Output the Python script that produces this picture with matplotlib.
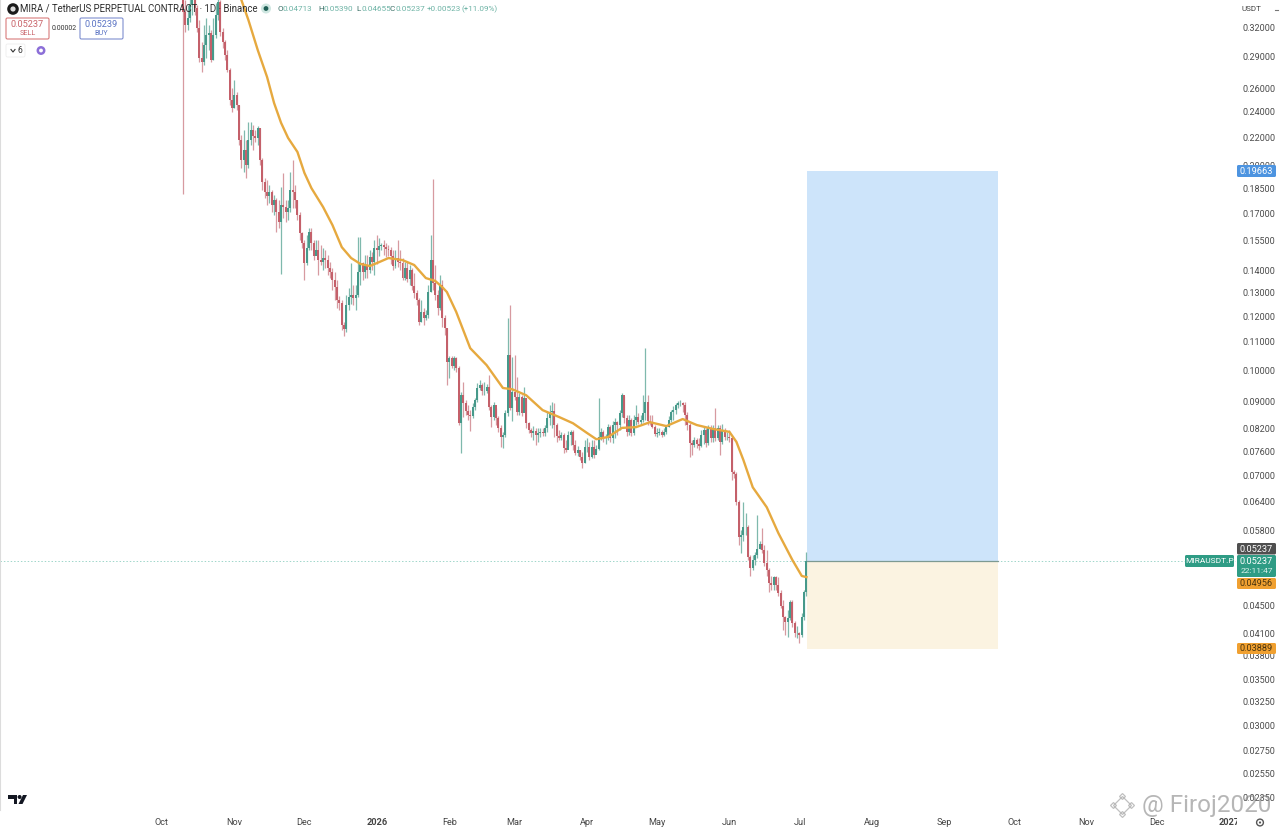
import numpy as np
import pandas as pd
import matplotlib
matplotlib.use("Agg")
import matplotlib.pyplot as plt
import matplotlib.dates as mdates
from matplotlib.patches import Circle, FancyBboxPatch, Polygon, Rectangle
from matplotlib.ticker import FixedLocator, FixedFormatter, NullLocator

plt.rcParams['font.family'] = ['Roboto', 'DejaVu Sans']

# ---------- data ----------
start_date = "2025-10-10"
closes = [.3367,.3222,.3299,.3448,.3567,.3413,.3189,.2880,.2842,.3011,.3114,.3135,.2861,.3114,.3333,.3483,.3146,.3041,.2910,.2766,
.2498,.2432,.2541,.2456,.2182,.2039,.2109,.2005,.2182,.2257,.2212,.2197,.2272,.2039,.1892,.1829,.1804,.1829,.1750,.1780,
.1709,.1652,.1750,.1738,.1709,.1732,.1841,.1829,.1780,.1692,.1592,.1538,.1437,.1512,.1597,.1538,.1472,.1502,.1452,.1442,
.1462,.1452,.1414,.1395,.1357,.1325,.1268,.1255,.1165,.1149,.1247,.1281,.1290,.1277,.1290,.1395,.1437,.1395,.1428,.1404,
.1467,.1442,.1512,.1502,.1522,.1527,.1517,.1507,.1502,.1472,.1423,.1462,.1442,.1437,.1366,.1414,.1362,.1404,.1330,.1299,
.1268,.1177,.1218,.1193,.1205,.1303,.1452,.1343,.1290,.1234,.1334,.1193,.1153,.1028,.1042,.1014,.1042,.1007,.0835,.0918,
.0894,.0870,.0858,.0855,.0882,.0903,.0941,.0950,.0931,.0931,.0944,.0882,.0853,.0888,.0850,.0822,.0797,.0802,.0864,.1052,
.0879,.0928,.0912,.0867,.0912,.0864,.0909,.0835,.0816,.0808,.0813,.0802,.0808,.0811,.0808,.0822,.0850,.0867,.0870,.0830,
.0800,.0794,.0802,.0767,.0762,.0802,.0811,.0775,.0755,.0762,.0744,.0730,.0770,.0770,.0744,.0770,.0749,.0765,.0797,.0811,
.0794,.0794,.0824,.0794,.0830,.0838,.0830,.0864,.0918,.0850,.0811,.0844,.0808,.0844,.0853,.0838,.0844,.0864,.0897,.0841,
.0838,.0824,.0805,.0808,.0811,.0802,.0811,.0824,.0844,.0867,.0873,.0888,.0894,.0894,.0888,.0858,.0830,.0781,.0775,.0789,
.0778,.0773,.0802,.0816,.0781,.0822,.0794,.0822,.0794,.0822,.0784,.0816,.0797,.0797,.0794,.0707,.0702,.0639,.0567,.0571,
.0587,.0587,.0530,.0511,.0525,.0534,.0546,.0555,.0543,.0520,.0507,.0485,.0482,.0495,.0482,.04695,.0450,.0433,.0425,.0431,
.0455,.0424,.0410,.0410,.0407,.0433,.04713,.05237]
highs = [.3688,.3507,.3448,.3567,.3688,.3627,.3448,.3277,.3041,.3222,.3299,.3222,.3168,.3299,.3471,.3567,.3507,.3189,.3062,.2960,
.2785,.2603,.2674,.2568,.2456,.2219,.2257,.2182,.2319,.2319,.2296,.2257,.2288,.2272,.2053,.1918,.1905,.1873,.1841,.1810,
.1792,.1780,.1860,.1951,.1780,.1780,.1958,.2039,.1873,.1780,.1709,.1597,.1554,.1581,.1619,.1619,.1554,.1554,.1554,.1527,
.1512,.1502,.1477,.1442,.1414,.1395,.1357,.1286,.1268,.1177,.1290,.1321,.1437,.1334,.1334,.1570,.1570,.1442,.1477,.1477,
.1502,.1492,.1554,.1581,.1565,.1538,.1554,.1538,.1527,.1517,.1502,.1502,.1554,.1502,.1462,.1442,.1442,.1428,.1414,.1390,
.1312,.1277,.1268,.1234,.1226,.1334,.1581,.1911,.1428,.1312,.1380,.1357,.1205,.1153,.1049,.1049,.1049,.1045,.1014,.0928,
.0960,.0903,.0888,.0873,.0894,.0909,.0957,.0967,.0957,.0960,.0954,.0983,.0888,.0897,.0879,.0855,.0830,.0811,.0873,.1193,
.1247,.1045,.1052,.0977,.0925,.0918,.0944,.0909,.0838,.0822,.0827,.0822,.0822,.0822,.0822,.0830,.0867,.0888,.0897,.0894,
.0835,.0816,.0811,.0808,.0789,.0813,.0816,.0816,.0789,.0773,.0762,.0757,.0789,.0794,.0784,.0789,.0789,.0775,.0909,.0822,
.0816,.0805,.0833,.0830,.0841,.0850,.0841,.0873,.0925,.0915,.0858,.0858,.0850,.0858,.0888,.0864,.0858,.0918,.1077,.0918,
.0858,.0858,.0830,.0822,.0822,.0816,.0822,.0830,.0855,.0873,.0885,.0894,.0900,.0903,.0897,.0897,.0867,.0835,.0789,.0797,
.0794,.0794,.0816,.0824,.0822,.0830,.0830,.0830,.0879,.0830,.0830,.0833,.0822,.0811,.0816,.0800,.0712,.0707,.0643,.0581,
.0639,.0616,.0591,.0534,.0534,.0539,.0612,.0561,.0585,.0552,.0543,.0511,.0498,.0498,.0498,.0495,.0474,.0458,.0435,.0443,
.0458,.0458,.0427,.0420,.0411,.0439,.0474,.05390]
lows = [.1816,.3146,.3168,.3255,.3333,.3333,.3146,.2842,.2748,.2814,.2880,.2960,.2842,.2861,.3082,.3277,.3103,.2980,.2861,.2748,
.2456,.2399,.2432,.2415,.2145,.1984,.1958,.1918,.1984,.2145,.2109,.2167,.2145,.2005,.1841,.1792,.1750,.1762,.1709,.1692,
.1597,.1619,.1385,.1675,.1652,.1663,.1709,.1732,.1732,.1663,.1554,.1512,.1357,.1428,.1502,.1502,.1452,.1477,.1380,.1428,
.1404,.1414,.1380,.1366,.1312,.1268,.1234,.1226,.1145,.1122,.1138,.1226,.1251,.1247,.1226,.1281,.1334,.1357,.1366,.1366,
.1390,.1404,.1380,.1433,.1472,.1502,.1477,.1467,.1472,.1433,.1404,.1414,.1419,.1404,.1357,.1357,.1348,.1334,.1312,.1277,
.1247,.1165,.1177,.1165,.1185,.1193,.1303,.1312,.1268,.1205,.1226,.1157,.1126,.0950,.0974,.1007,.1000,.0993,.0830,.0755,
.0853,.0858,.0844,.0813,.0850,.0873,.0897,.0934,.0918,.0918,.0925,.0873,.0824,.0844,.0830,.0811,.0770,.0767,.0797,.0855,
.0873,.0841,.0903,.0858,.0858,.0855,.0903,.0822,.0808,.0797,.0789,.0775,.0784,.0797,.0800,.0800,.0811,.0830,.0822,.0797,
.0784,.0789,.0789,.0755,.0757,.0773,.0775,.0762,.0749,.0747,.0737,.0717,.0730,.0757,.0737,.0742,.0742,.0755,.0762,.0789,
.0784,.0778,.0789,.0784,.0781,.0794,.0802,.0816,.0853,.0835,.0800,.0802,.0800,.0802,.0830,.0833,.0833,.0838,.0844,.0830,
.0830,.0822,.0800,.0797,.0802,.0797,.0800,.0805,.0824,.0838,.0844,.0861,.0879,.0885,.0867,.0830,.0816,.0744,.0749,.0770,
.0767,.0762,.0770,.0778,.0770,.0775,.0784,.0784,.0786,.0789,.0749,.0778,.0789,.0789,.0784,.0688,.0693,.0633,.0552,.0537,
.0561,.0571,.0525,.0498,.0507,.0516,.0528,.0546,.0537,.0514,.0498,.0471,.0474,.0474,.0474,.0465,.0446,.0414,.0407,.0405,
.0428,.0419,.0405,.0403,.0396,.0405,.0428,.04655]
first_open = .3600

ma_days = [25,28,32,36,39,42,45,49,52,55,60,64,68,72,76,80,84,88,94,99,104,108,111,113,117,123,130,137,141,147,154,161,167,173,
177,182,188,194,200,207,214,220,227,234,237,240,244,250,255,261,265,267]
ma_values = [.3507,.3277,.2960,.2701,.2473,.2312,.2197,.2095,.1951,.1853,.1738,.1635,.1517,.1462,.1433,.1423,.1442,.1462,.1452,
.1428,.1366,.1353,.1325,.1303,.1218,.1077,.1017,.0941,.0937,.0918,.0873,.0853,.0835,.0808,.0791,.0797,.0822,.0824,.0838,.0827,
.0847,.0830,.0819,.0811,.0784,.0737,.0672,.0628,.0575,.0525,.04975,.04956]

entry_price = 0.05237
target_price = 0.19663
stop_price = 0.03889
position_end_day = 349

price_ticks = [.32,.29,.26,.24,.22,.20,.185,.17,.155,.14,.13,.12,.11,.10,.09,.082,.076,.07,.064,.058,
               .045,.041,.038,.035,.0325,.03,.0275,.0255,.0235]
month_ticks = ["2025-10-01","2025-11-01","2025-12-01","2026-01-01","2026-02-01","2026-03-01","2026-04-01","2026-05-01",
               "2026-06-01","2026-07-01","2026-08-01","2026-09-01","2026-10-01","2026-11-01","2026-12-01","2027-01-01"]
month_labels = ["Oct","Nov","Dec","2026","Feb","Mar","Apr","May","Jun","Jul","Aug","Sep","Oct","Nov","Dec","2027"]

# ---------- figure ----------
W, H = 1280, 830
fig = plt.figure(figsize=(W/100, H/100), dpi=100, facecolor='white')
ax = fig.add_axes([0, 20/H, 1236/W, 810/H])
ax.set_yscale('log')
ax.set_facecolor('white')

closes_a = np.array(closes); highs_a = np.array(highs); lows_a = np.array(lows)
opens_a = np.r_[first_open, closes_a[:-1]]
dates = mdates.date2num(pd.date_range(start_date, periods=len(closes_a)))
d0 = dates[0]
RED, GREEN = '#c4606a', '#46998a'
up = closes_a >= opens_a
cols = [GREEN if u else RED for u in up]

ax.fill_between([dates[-1]+0.3, d0+position_end_day], entry_price, target_price, color='#cde4fa', lw=0, zorder=1)
ax.fill_between([dates[-1]+0.3, d0+position_end_day], stop_price, entry_price, color='#fbf3e1', lw=0, zorder=1)
ax.plot([dates[-1]+0.3, d0+position_end_day], [entry_price]*2, color='#7d9a92', lw=0.9, zorder=1.5)
ax.axhline(entry_price, color='#9fd6ca', lw=0.7, ls=(0, (1.5, 2)), zorder=1.2)

ax.vlines(dates, lows_a, highs_a, colors=['#7fb9ad' if u else '#d79aa0' for u in up], lw=0.9, zorder=2)
ax.bar(dates, np.abs(closes_a-opens_a), bottom=np.minimum(opens_a, closes_a), width=0.85, color=cols, lw=0, zorder=3)
ax.plot(d0+np.array(ma_days), ma_values, color='#e6a93f', lw=1.7, zorder=4, solid_joinstyle='round')

oct1 = mdates.date2num(pd.Timestamp("2025-10-01"))
ax.set_xlim(oct1-162/2.335, oct1+(1236-162)/2.335)
ax.set_ylim(0.0225, 0.3507)

ax.yaxis.tick_right()
ax.yaxis.set_major_locator(FixedLocator(price_ticks))
ax.yaxis.set_major_formatter(FixedFormatter([f"{p:.5f}" for p in price_ticks]))
ax.yaxis.set_minor_locator(NullLocator())
ax.tick_params(axis='y', length=0, pad=4.5, labelsize=6.5, labelcolor='#4a4a4a')
ax.xaxis.set_major_locator(FixedLocator(mdates.date2num(pd.to_datetime(month_ticks))))
ax.xaxis.set_major_formatter(FixedFormatter(month_labels))
ax.tick_params(axis='x', length=0, pad=6, labelsize=6.6, labelcolor='#444444')
for t, s in zip(ax.get_xticklabels(), month_labels):
    if s.isdigit():
        t.set_fontweight('bold')
for s in ['top', 'right', 'bottom']:
    ax.spines[s].set_visible(False)
ax.spines['left'].set_color('#dcdcdc')

# ---------- chart furniture in pixel coordinates ----------
ov = fig.add_axes([0, 0, 1, 1], zorder=10)
ov.set_xlim(0, W); ov.set_ylim(H, 0); ov.axis('off'); ov.patch.set_alpha(0)

def T(x, y, s, size=6.6, color='#444444', ha='left', weight='normal', alpha=1, zo=6):
    return ov.text(x, y, s, fontsize=size, color=color, ha=ha, va='center', fontweight=weight, alpha=alpha, zorder=zo)

def tag(x0, y0, x1, y1, fc, ec='none', lw=0):
    ov.add_patch(FancyBboxPatch((x0+1, y0+1), x1-x0-2, y1-y0-2, boxstyle='round,pad=1,rounding_size=1.5',
                                fc=fc, ec=ec, lw=lw, zorder=5))

# clip of the last time label
ov.add_patch(Rectangle((1236.5, 812), 12, 18, fc='white', ec='none', zorder=4))

# header
ov.add_patch(Circle((13, 9), 5.8, fc='#1c1c1c', ec='none', zorder=6))
ov.add_patch(Circle((13, 9), 2.6, fc='#dddddd', ec='none', zorder=7))
T(19.5, 9, "MIRA / TetherUS PERPETUAL CONTRACT · 1D · Binance", size=6.95, color='#2e2e2e')
ov.add_patch(Circle((266, 8.5), 5, fc='#cfe7e1', ec='none', zorder=6))
ov.add_patch(Circle((266, 8.5), 2.4, fc='#1f5f55', ec='none', zorder=7))
LV = '#6db3a5'
for x, lab, val in [(277, "O", "0.04713"), (318, "H", "0.05390"), (356.5, "L", "0.04655"), (390, "C", "0.05237")]:
    T(x, 9, lab, size=5.9, color='#3b6f66')
    T(x+5.2, 9, val, size=5.9, color=LV)
T(427, 9, "+0.00523", size=5.9, color=LV)
T(462, 9, "(+11.09%)", size=5.9, color=LV)

# buy / sell
tag(6, 18, 49, 39, 'white', ec='#d97b7b', lw=0.8)
T(27.5, 24.5, "0.05237", size=6.6, color='#c9646a', ha='center')
T(27.5, 33.5, "SELL", size=5.2, color='#c9646a', ha='center')
T(64, 28.5, "0.00002", size=5.0, color='#333333', ha='center')
tag(80, 18, 123, 39, 'white', ec='#7f8fd0', lw=0.8)
T(101.5, 24.5, "0.05239", size=6.6, color='#5b74c4', ha='center')
T(101.5, 33.5, "BUY", size=5.2, color='#5b74c4', ha='center')
tag(6, 44, 25, 57, 'white', ec='#eeeeee', lw=0.6)
ov.plot([11, 13, 15], [49.5, 52, 49.5], color='#333333', lw=0.8, zorder=6)
T(18, 50.5, "6", size=6.2, color='#333333')
ov.add_patch(Circle((41, 50.5), 3.2, fc='none', ec='#8c6fd8', lw=1.8, zorder=6))

# price scale header
T(1241, 9, "USDT", size=5.8, color='#444444')
ov.plot([1275, 1278], [10, 10], color='#777777', lw=0.8, zorder=6)

# price tags
tag(1237, 165, 1276, 177, '#4d94e0')
T(1256.5, 171.3, "0.19663", color='white', ha='center')
tag(1237, 543, 1276, 554.5, '#4f4f4f')
T(1256.5, 549, "0.05237", color='white', ha='center')
tag(1237, 555, 1276, 577, '#2f9c85')
T(1256.5, 561, "0.05237", color='white', ha='center')
T(1256.5, 571, "22:11:47", size=6.1, color='#d8f0ea', ha='center')
tag(1185, 555, 1234, 567, '#2f9c85')
T(1209.5, 561, "MIRAUSDT.P", size=6.0, color='white', ha='center')
tag(1237, 578, 1276, 589, '#f0a030')
T(1256.5, 583.5, "0.04956", color='#4a3510', ha='center')
tag(1237, 643, 1276, 654, '#f0a030')
T(1256.5, 648.7, "0.03889", color='#4a3510', ha='center')

# TV logo
ov.add_patch(Polygon([(8, 795), (17, 795), (17, 804), (13.5, 804), (13.5, 799), (8, 799)], fc='#131722', ec='none', zorder=6))
ov.add_patch(Circle((19.6, 797), 2.0, fc='#131722', ec='none', zorder=6))
ov.add_patch(Polygon([(23, 795), (27, 795), (22.5, 804), (18.5, 804)], fc='#131722', ec='none', zorder=6))

# gear
ov.add_patch(Circle((1260, 822.5), 3.4, fc='none', ec='#555555', lw=1.0, zorder=6))
ov.add_patch(Circle((1260, 822.5), 1.1, fc='#555555', ec='none', zorder=6))

# watermark
T(1142, 805, "@ Firoj2020", size=17.5, color='#8a8a8a', alpha=0.62, zo=8)
for (x, y, s) in [(1122, 805, 9), (1113, 805, 3), (1131, 805, 3), (1122, 796, 3), (1122, 814, 3)]:
    ov.plot([x], [y], marker='D', ms=s, mfc='none', mec='#b0b0b0', mew=0.9, alpha=0.8, zorder=8)

fig.savefig("out.png", dpi=100, facecolor='white')
